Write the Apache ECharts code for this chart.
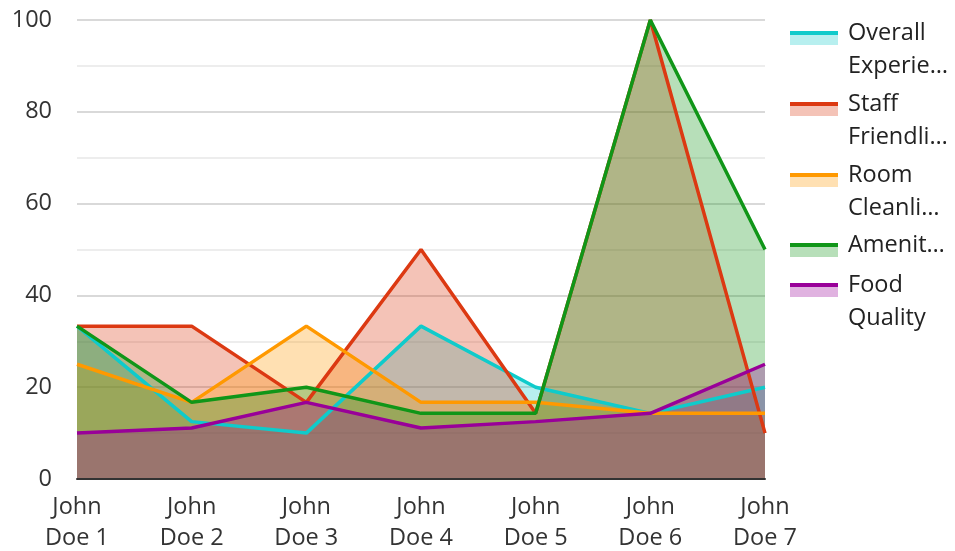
<!DOCTYPE html>
<html><head><meta charset="utf-8">
<script src="https://cdn.jsdelivr.net/npm/echarts@6/dist/echarts.min.js"></script>
<style>html,body{margin:0;padding:0;background:#fff}#c{width:955px;height:551px}</style>
</head><body><div id="c"></div>
<script>
const categories = ['John Doe 1','John Doe 2','John Doe 3','John Doe 4','John Doe 5','John Doe 6','John Doe 7'];
const seriesNames = ['Overall Experience','Staff Friendliness','Room Cleanliness','Amenities','Food Quality'];
const legendLines = [['Overall','Experie…'],['Staff','Friendli…'],['Room','Cleanli…'],['Amenit…'],['Food','Quality']];
const overallExperience = [33.3, 12.5, 10, 33.3, 20, 14.3, 20];
const staffFriendliness = [33.3, 33.3, 16.7, 50, 14.3, 100, 10];
const roomCleanliness = [25, 16.7, 33.3, 16.7, 16.7, 14.3, 14.3];
const amenities = [33.3, 16.7, 20, 14.3, 14.3, 100, 50];
const foodQuality = [10, 11.1, 16.7, 11.1, 12.5, 14.3, 25];
const yTicks = [0, 20, 40, 60, 80, 100];
const colors = ['#0fcbcb', '#dc3912', '#ff9900', '#109618', '#990099'];
const allData = [overallExperience, staffFriendliness, roomCleanliness, amenities, foodQuality];

const font = '"Open Sans", "Noto Sans", sans-serif';
const chart = echarts.init(document.getElementById('c'));

const areaSeries = seriesNames.map((n, i) => ({
  name: n, type: 'line', data: allData[i],
  symbol: 'none', smooth: false,
  lineStyle: { width: 0, opacity: 0 },
  itemStyle: { color: colors[i] },
  areaStyle: { color: colors[i], opacity: 0.3 },
  z: 2
}));
const lineSeries = seriesNames.map((n, i) => ({
  name: n, type: 'line', data: allData[i],
  symbol: 'none', smooth: false,
  lineStyle: { color: colors[i], width: 3.5 },
  itemStyle: { color: colors[i] },
  z: 3
}));

// legend as graphics
const iconTops = [31, 102, 173, 243, 283];
const graphics = [];
legendLines.forEach((lines, i) => {
  const t = iconTops[i];
  graphics.push({ type: 'rect', left: 790, top: t + 3, shape: { width: 48, height: 11 }, style: { fill: colors[i], opacity: 0.3 } });
  graphics.push({ type: 'rect', left: 790, top: t, shape: { width: 48, height: 4 }, style: { fill: colors[i] } });
  lines.forEach((ln, j) => {
    graphics.push({ type: 'text', x: 848, y: t + 2 + j * 33,
      style: { text: ln, font: '23.5px ' + font, fill: '#222', textVerticalAlign: 'middle', verticalAlign: 'middle' } });
  });
});

chart.setOption({
  animation: false,
  grid: { left: 77, right: 190, top: 20, bottom: 72, containLabel: false, outerBoundsMode: 'none' },
  xAxis: {
    type: 'category', data: categories, boundaryGap: false, z: 10,
    axisLine: { show: true, lineStyle: { color: '#333', width: 2 } },
    axisTick: { show: false },
    axisLabel: { color: '#333', fontSize: 23.5, fontFamily: font, lineHeight: 31, margin: 13,
      formatter: v => v.replace('John ', 'John\n'), interval: 0 }
  },
  yAxis: {
    type: 'value', min: yTicks[0], max: yTicks[yTicks.length - 1], interval: 20,
    axisLine: { show: false }, axisTick: { show: false },
    axisLabel: { color: '#333', fontSize: 23.5, fontFamily: font, margin: 25 },
    splitLine: { lineStyle: { color: '#cccccc', width: 1.5 } },
    minorTick: { show: false, splitNumber: 2 },
    minorSplitLine: { show: true, lineStyle: { color: '#e8e8e8', width: 1.5 } }
  },
  series: areaSeries.concat(lineSeries),
  graphic: graphics
});
</script></body></html>
